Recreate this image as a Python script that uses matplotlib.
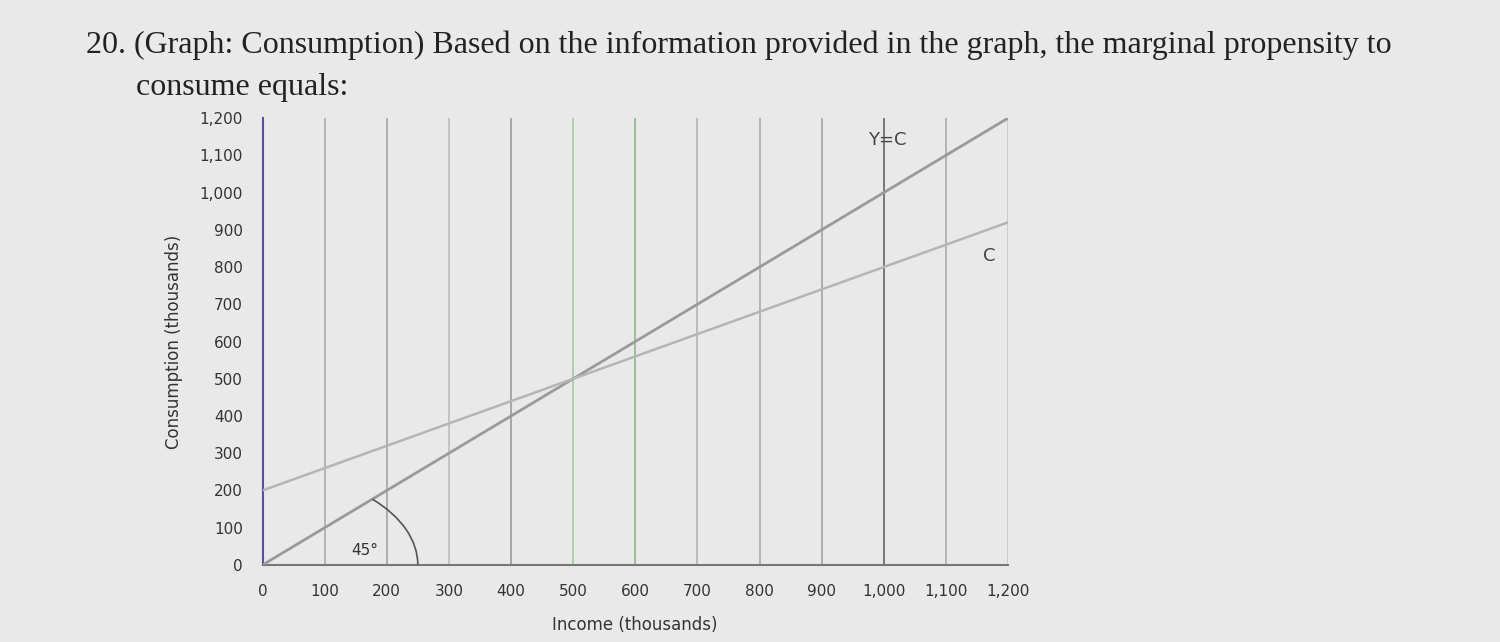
import matplotlib
matplotlib.use("Agg")
import matplotlib.pyplot as plt
from matplotlib.patches import Arc
import numpy as np

income = [0, 1200]
y_eq_c = [0, 1200]
consumption = [200, 920]
ticks = list(range(0, 1300, 100))
tick_labels = ["0", "100", "200", "300", "400", "500", "600", "700", "800", "900",
               "1,000", "1,100", "1,200"]
grid_colors = {100: "#b0b0b0", 200: "#a8a8a8", 300: "#c0c0c0", 400: "#a0a0a0",
               500: "#a6cfa6", 600: "#8fbf8f", 700: "#b8b8b8", 800: "#b0b0b0",
               900: "#a8a8a8", 1000: "#707070", 1100: "#b0b0b0", 1200: "#c8c8c8"}

bg = "#e9e9e9"
fig = plt.figure(figsize=(15, 6.42), dpi=100, facecolor=bg)
ax = fig.add_axes([0.175, 0.12, 0.497, 0.696], facecolor=bg)
ax.set_xlim(0, 1200)
ax.set_ylim(0, 1200)

for x in ticks[1:]:
    ax.axvline(x, color=grid_colors[x], lw=1.3, zorder=1)

ax.plot(income, y_eq_c, color="#9a9a9a", lw=2, zorder=3)
ax.plot(income, consumption, color="#b5b5b5", lw=1.8, zorder=3)

ax.add_patch(Arc((0, 0), 500, 500, theta1=0, theta2=45, color="#555555", lw=1.2, zorder=4))
ax.text(165, 40, "45°", fontsize=11, color="#333333", ha="center", va="center")
ax.text(1005, 1140, "Y=C", fontsize=13, color="#444444", ha="center", va="center")
ax.text(1170, 830, "C", fontsize=13, color="#444444", ha="center", va="center")

for s in ["top", "right"]:
    ax.spines[s].set_visible(False)
ax.spines["left"].set_color("#5a4fa0")
ax.spines["left"].set_linewidth(1.5)
ax.spines["bottom"].set_color("#777777")
ax.spines["bottom"].set_linewidth(1.5)

ax.set_xticks(ticks)
ax.set_xticklabels(tick_labels, fontsize=11, color="#333333")
ax.set_yticks(ticks)
ax.set_yticklabels(tick_labels, fontsize=11, color="#333333")
ax.tick_params(length=0, pad=14)
ax.set_xlabel("Income (thousands)", fontsize=12, color="#333333", labelpad=12)
ax.set_ylabel("Consumption (thousands)", fontsize=12, color="#333333", labelpad=12)

fig.text(0.057, 0.93, "20. (Graph: Consumption) Based on the information provided in the graph, the marginal propensity to",
         family="Liberation Serif", fontsize=23, color="#222222", va="center")
fig.text(0.091, 0.863, "consume equals:", family="Liberation Serif", fontsize=23,
         color="#222222", va="center")

fig.savefig("out.png", dpi=100, facecolor=bg)
